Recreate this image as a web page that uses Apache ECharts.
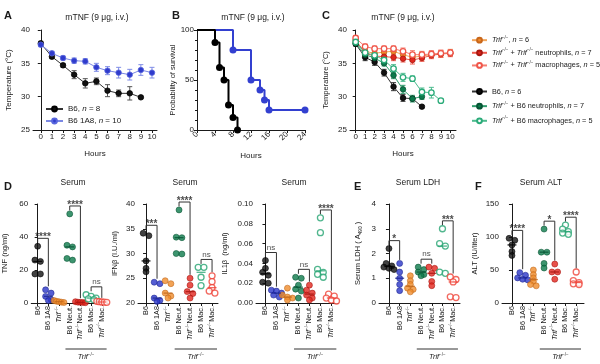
<!DOCTYPE html>
<html><head><meta charset="utf-8">
<script src="https://cdn.jsdelivr.net/npm/echarts@6.0.0/dist/echarts.min.js"></script>
<style>html,body{margin:0;padding:0;background:#fff}#c{width:600px;height:364px}</style>
</head><body><div id="c"></div>
<script>
// ================= DATA =================
const hours = [0,1,2,3,4,5,6,7,8,9,10];
// Panel A
const A_B6      = [38.0,36.0,34.7,33.3,32.0,32.3,30.9,30.5,30.5,29.9];
const A_B6_sem  = [0.3,0.3,0.3,0.6,0.7,0.5,0.9,0.5,1.0,0.2];
const A_1A8     = [37.8,36.5,35.8,35.4,35.3,34.4,33.9,33.6,33.3,34.0,33.6];
const A_1A8_sem = [0.3,0.3,0.3,0.4,0.4,0.6,0.6,0.8,0.8,0.8,0.8];
// Panel B (Kaplan-Meier)
const survTicks = [0,4,8,12,16,20,24];
const B_B6_t  = [0,4,5,6,7,8,9];
const B_B6_p  = [100,87.5,62.5,50,25,12.5,0];
const B_1A8_t = [0,8,12,14,15,16,24];
const B_1A8_p = [100,80,50,40,30,20,20];
// Panel C
const C_trif         = [38.2,36.8,36.5,36.7,36.8,36.3,35.9,36.1,36.3,36.4,36.6];
const C_trif_sem     = [0.3,0.4,0.4,0.5,0.5,0.6,0.6,0.6,0.5,0.5,0.5];
const C_trifNeut     = [38.5,36.5,36.1,36.0,35.9,35.7,35.5,35.8,36.2,36.4,36.5];
const C_trifNeut_sem = [0.3,0.4,0.4,0.4,0.5,0.5,0.6,0.5,0.5,0.5,0.5];
const C_trifMac      = [38.8,37.5,37.2,37.2,37.2,36.8,36.3,36.3,36.4,36.5,36.6];
const C_trifMac_sem  = [0.3,0.4,0.4,0.4,0.4,0.5,0.6,0.5,0.5,0.5,0.4];
const C_b6           = [37.9,35.9,35.2,33.6,31.5,29.8,29.7,28.5];
const C_b6_sem       = [0.3,0.5,0.5,0.5,0.6,0.5,0.3,0.2];
const C_b6Neut       = [38.0,36.3,35.8,35.0,33.2,31.1,29.7,30.0];
const C_b6Neut_sem   = [0.3,0.4,0.4,0.4,0.5,0.6,0.5,0.4];
const C_b6Mac        = [38.2,36.6,36.2,35.5,34.2,32.9,32.7,30.7,30.6,29.4];
const C_b6Mac_sem    = [0.3,0.4,0.4,0.5,0.6,0.6,0.4,0.6,0.8,0.3];
// Panels D-F
const groups = ['B6','B6 1A8','Trif','B6 Neut.','Trif Neut.','B6 Mac.','Trif Mac.'];
const tnf  = [[34.4,26,25.2,17.6,17.6],[8,6,4,2,1.5],[1.5,1,0.8,0.5,0.3],[54,35,34,27,26],[0.8,0.5,0.4,0.3,0.2],[5,4,3,2.5,2],[1,0.8,0.6,0.5,0.4]];
const ifnb = [[34.1,33.6,28.5,27,26.3],[24.2,23.9,21,20.5,20.3],[24.5,23.9,22.0,21.4,21.0],[38.8,33.3,33.2,30,29.9],[25,23.6,22.3,21.9,21.0],[27.2,27.2,25.2,23.5],[25.5,24.3,23.1,22.4,22.0]];
const il1b = [[0.043,0.035,0.031,0.028,0.021,0.020],[0.013,0.012,0.010,0.008,0.006],[0.015,0.008,0.006,0.005,0.003],[0.026,0.025,0.018,0.014,0.012,0.005],[0.018,0.013,0.010,0.008,0.005,0.003],[0.086,0.071,0.034,0.031,0.029,0.026],[0.009,0.007,0.005,0.003,0.002]];
const ldh  = [[2.2,1.6,1.5,1.45,1.4,1.35],[1.6,1.25,1.0,0.75,0.5],[1.1,0.9,0.75,0.6,0.55,0.45],[1.45,1.35,1.25,1.15,1.1],[1.45,1.4,1.2,0.87,0.7],[3.0,2.4,2.3,1.25,1.2],[1.05,0.95,0.85,0.25,0.22]];
const alt  = [[98,95,88,78,72],[46,42,38,36,35],[50,43,38,33,28,26],[112,77,77,60,53],[59,47,47,36],[118,112,108,106,104],[47,34,31,29,28]];
const tnfSig  = [[0,1,'****'],[3,4,'****'],[5,6,'ns']];
const ifnbSig = [[0,1,'***'],[3,4,'****'],[5,6,'ns']];
const il1bSig = [[0,1,'ns'],[3,4,'ns'],[5,6,'****']];
const ldhSig  = [[0,1,'*'],[3,4,'ns'],[5,6,'***']];
const altSig  = [[0,1,'****'],[3,4,'*'],[5,6,'****']];

// ================= STYLE / HELPERS =================
const FONT = '"Liberation Sans", Arial, Helvetica, sans-serif';
const INK = '#1a1a1a';
function rich(fs){
  const s = +(fs*0.62).toFixed(1);
  return {
    n:{fontSize:fs,fontFamily:FONT,color:INK,lineHeight:fs+3},
    it:{fontSize:fs,fontFamily:FONT,color:INK,fontStyle:'italic',lineHeight:fs+3},
    sup:{fontSize:s,fontFamily:FONT,color:INK,verticalAlign:'top',lineHeight:s+1},
    sub:{fontSize:s,fontFamily:FONT,color:INK,verticalAlign:'bottom',lineHeight:s+1}
  };
}
const TRIF = '{it|Trif}{sup|−/−}';
function richName(s){
  if (s.startsWith('Trif')) { const r = s.slice(4).trim(); return TRIF + (r ? '{n|' + r + '}' : ''); }
  return '{n|' + s + '}';
}
const axLine = {show:true,lineStyle:{color:INK,width:1}};
const axTick = {show:true,length:3,lineStyle:{color:INK,width:1}};
function lab(fs){ return {color:INK,fontSize:fs,fontFamily:FONT,margin:3}; }
const nameStyle = (fs)=>({color:INK,fontSize:fs,fontFamily:FONT,rich:rich(fs)});

const grids = [
  {left:33,top:30,width:124,height:100},
  {left:197,top:30,width:108,height:100},
  {left:350,top:30,width:106,height:100},
  {left:29,top:204,width:79,height:99},
  {left:138,top:204,width:80,height:99},
  {left:256,top:204,width:82,height:99},
  {left:379,top:204,width:81,height:99},
  {left:502,top:204,width:82,height:99}
];

const xAxes = [], yAxes = [], series = [];

// ---- A ----
xAxes.push({gridIndex:0,type:'value',min:-0.7,max:10.45,name:'Hours',nameLocation:'middle',nameGap:20,nameTextStyle:nameStyle(8),
  axisLine:axLine,axisTick:Object.assign({},axTick,{customValues:hours}),axisLabel:Object.assign(lab(8),{customValues:hours}),splitLine:{show:false}});
yAxes.push({gridIndex:0,type:'value',min:25,max:40,interval:5,name:'Temperature (°C)',nameLocation:'middle',nameGap:20,nameTextStyle:nameStyle(8),
  axisLine:axLine,axisTick:axTick,axisLabel:lab(8),splitLine:{show:false}});
// ---- B ----
xAxes.push({gridIndex:1,type:'value',min:0,max:24,interval:4,name:'Hours',nameLocation:'middle',nameGap:22,nameTextStyle:nameStyle(8),
  axisLine:axLine,axisTick:axTick,axisLabel:Object.assign(lab(8),{rotate:45}),splitLine:{show:false}});
yAxes.push({gridIndex:1,type:'value',min:0,max:100,interval:50,name:'Probability of survival',nameLocation:'middle',nameGap:18,nameTextStyle:nameStyle(7.5),
  axisLine:axLine,axisTick:axTick,minorTick:{show:true,splitNumber:5,length:2,lineStyle:{color:INK}},axisLabel:lab(8),splitLine:{show:false}});
// ---- C ----
xAxes.push({gridIndex:2,type:'value',min:-0.6,max:10.6,name:'Hours',nameLocation:'middle',nameGap:20,nameTextStyle:nameStyle(8),
  axisLine:axLine,axisTick:Object.assign({},axTick,{customValues:hours}),axisLabel:Object.assign(lab(8),{customValues:hours}),splitLine:{show:false}});
yAxes.push({gridIndex:2,type:'value',min:25,max:40,interval:5,name:'Temperature (°C)',nameLocation:'middle',nameGap:20,nameTextStyle:nameStyle(7.5),
  axisLine:axLine,axisTick:axTick,axisLabel:lab(8),splitLine:{show:false}});

function errSeries(gi, ys, es, color){
  return {type:'custom',xAxisIndex:gi,yAxisIndex:gi,silent:true,z:2,clip:false,encode:{x:0,y:1},
    data: ys.map((y,i)=>[hours[i],y,es[i]]),
    renderItem:(p,api)=>{
      const x=api.value(0), y=api.value(1), e=api.value(2);
      const t=api.coord([x,y+e]), b=api.coord([x,y-e]); const w=2.5;
      const st={stroke:color,lineWidth:1};
      return {type:'group',children:[
        {type:'line',shape:{x1:t[0],y1:t[1],x2:b[0],y2:b[1]},style:st},
        {type:'line',shape:{x1:t[0]-w,y1:t[1],x2:t[0]+w,y2:t[1]},style:st},
        {type:'line',shape:{x1:b[0]-w,y1:b[1],x2:b[0]+w,y2:b[1]},style:st}]};
    }};
}
function tempSeries(gi, name, ys, lineColor, fill, border, open){
  return {type:'line',name:name,xAxisIndex:gi,yAxisIndex:gi,clip:false,z:3,
    data: ys.map((y,i)=>[hours[i],y]), symbol:'circle', symbolSize:5.5, showSymbol:true,
    lineStyle:{color:lineColor,width:1}, itemStyle:{color:open?'#fff':fill,borderColor:border,borderWidth:open?1.3:0.8}};
}
// A series
series.push(errSeries(0,A_B6,A_B6_sem,'#555'));
series.push(errSeries(0,A_1A8,A_1A8_sem,'#7f8ce6'));
series.push(tempSeries(0,'aB6',A_B6,'#333','#111','#000',false));
series.push(tempSeries(0,'a1A8',A_1A8,'#7b88e4','#2f3bcc','#5866dd',false));
// B series
function survData(ts, ps){ return ts.map((t,i)=> i===0 ? {value:[t,ps[i]],symbol:'none'} : [t,ps[i]]); }
series.push({type:'line',name:'bB6',xAxisIndex:1,yAxisIndex:1,step:'end',clip:false,data:survData(B_B6_t,B_B6_p),
  symbol:'circle',symbolSize:7,lineStyle:{color:'#000',width:2},itemStyle:{color:'#000'},z:4});
series.push({type:'line',name:'b1A8',xAxisIndex:1,yAxisIndex:1,step:'end',clip:false,data:survData(B_1A8_t,B_1A8_p),
  symbol:'circle',symbolSize:7,lineStyle:{color:'#3340d0',width:2},itemStyle:{color:'#3340d0'},z:3});
// C series
const cDefs = [
  ['cTrif',C_trif,C_trif_sem,'#f1a55c','#ef8a2a','#c8661a',false],
  ['cTrifN',C_trifNeut,C_trifNeut_sem,'#ee5b4e','#e0271e','#a8160f',false],
  ['cTrifM',C_trifMac,C_trifMac_sem,'#f47d70','#fff','#f0564a',true],
  ['cB6',C_b6,C_b6_sem,'#333','#111','#000',false],
  ['cB6N',C_b6Neut,C_b6Neut_sem,'#2f9b6c','#0b7a4b','#065333',false],
  ['cB6M',C_b6Mac,C_b6Mac_sem,'#4dbb8e','#fff','#2aab79',true]
];
cDefs.forEach(d=>{ series.push(errSeries(2,d[1],d[2],d[3])); });
cDefs.forEach(d=>{ series.push(tempSeries(2,d[0],d[1],d[3],d[4],d[5],d[6])); });

// ---- D-F ----
const gStyle = [
  {fill:'#111',border:'#000'},
  {fill:'#2b36c8',border:'#1c2590'},
  {fill:'#ef8c2c',border:'#c0661a'},
  {fill:'#0c7a4b',border:'#075233'},
  {fill:'#e2261e',border:'#a5140f'},
  {fill:'#fff',border:'#26a472',open:true},
  {fill:'#fff',border:'#ef4438',open:true}
];
const dPanels = [
  {vals:tnf, min:0,max:60,step:20, name:'{n|TNF (ng/ml)}', gap:21, sig:tnfSig, xmin:-0.6,xmax:6.58,dec:0},
  {vals:ifnb,min:20,max:40,step:5, name:'{n|IFNβ (I.U./ml)}', gap:18, sig:ifnbSig, xmin:-0.73,xmax:6.54,dec:0},
  {vals:il1b,min:0,max:0.1,step:0.02, name:'{n|IL1β  (ng/ml)}', gap:26, sig:il1bSig, xmin:-0.86,xmax:6.6,dec:2},
  {vals:ldh, min:0,max:4,step:1, name:'{n|Serum LDH ( A}{sub|490}{n| )}', gap:16, sig:ldhSig, xmin:-0.93,xmax:6.64,dec:0},
  {vals:alt, min:0,max:150,step:50, name:'{n|ALT (IU/liter)}', gap:22, sig:altSig, xmin:-0.93,xmax:6.73,dec:0}
];
const catIdx = groups.map((g,i)=>i);
function median(a){ const s=[...a].sort((x,y)=>x-y); const m=Math.floor(s.length/2); return s.length%2?s[m]:(s[m-1]+s[m])/2; }
function swarm(vals, ci, pxX, pxY, d){
  const s=[...vals].sort((a,b)=>b-a); const rows=[];
  s.forEach(v=>{ const r=rows[rows.length-1]; if(r && (r[0]-v)*pxY < d*0.55) r.push(v); else rows.push([v]); });
  const out=[];
  rows.forEach(r=>{ const k=r.length; const sp=k>1?Math.min(d*0.95,1.7*d/(k-1)):0;
    r.forEach((v,i)=>out.push([ci+(i-(k-1)/2)*sp/pxX, v])); });
  return out;
}
const DOT = 6;
dPanels.forEach((P,pi)=>{
  const gi = 3+pi, g = grids[gi];
  const pxX = g.width/(P.xmax-P.xmin), pxY = g.height/(P.max-P.min), range=P.max-P.min;
  xAxes.push({gridIndex:gi,type:'value',min:P.xmin,max:P.xmax,axisLine:axLine,
    axisTick:Object.assign({},axTick,{customValues:catIdx}),
    axisLabel:{customValues:catIdx,rotate:90,margin:3,formatter:v=>richName(groups[Math.round(v)]),rich:rich(7.3),color:INK,fontSize:7.3,fontFamily:FONT},
    splitLine:{show:false}});
  yAxes.push({gridIndex:gi,type:'value',min:P.min,max:P.max,interval:P.step,name:P.name,nameLocation:'middle',nameGap:P.gap,
    nameTextStyle:nameStyle(7.5),axisLine:axLine,axisTick:axTick,
    axisLabel:Object.assign(lab(8),{formatter:v=>v.toFixed(P.dec)}),splitLine:{show:false}});
  P.vals.forEach((vals,ci)=>{
    const st=gStyle[ci];
    series.push({type:'scatter',xAxisIndex:gi,yAxisIndex:gi,clip:false,z:3,symbolSize:DOT,
      data:swarm(vals,ci,pxX,pxY,DOT),
      itemStyle:{color:st.fill,borderColor:st.border,borderWidth:st.open?1.3:0.7}});
    series.push({type:'scatter',xAxisIndex:gi,yAxisIndex:gi,clip:false,z:4,symbol:'rect',symbolSize:[9,1.3],silent:true,
      data:[[ci,median(vals)]],itemStyle:{color:st.border}});
  });
  P.sig.forEach(([i,j,txt])=>{
    const mi=Math.max(...P.vals[i]), mj=Math.max(...P.vals[j]);
    const top=Math.max(mi,mj)+0.08*range, yl=mi+0.035*range, yr=mj+0.035*range;
    series.push({type:'line',xAxisIndex:gi,yAxisIndex:gi,clip:false,silent:true,symbol:'none',z:2,
      lineStyle:{color:'#333',width:1},data:[[i,yl],[i,top],[j,top],[j,yr]]});
    const star = txt.indexOf('*')>=0;
    series.push({type:'scatter',xAxisIndex:gi,yAxisIndex:gi,clip:false,silent:true,symbolSize:0,z:5,
      data:[[(i+j)/2,top]],
      label:{show:true,position:'top',distance:star?-4:1,formatter:()=>txt,color:INK,fontFamily:FONT,
        fontSize:star?10:8,fontWeight:star?'bold':'normal'}});
  });
});

// ---- legends ----
const legendText = {
  aB6:'{n|B6, }{it|n}{n| = 8}',
  a1A8:'{n|B6 1A8, }{it|n}{n| = 10}',
  cTrif:TRIF+'{n|, }{it|n}{n| = 6}',
  cTrifN:TRIF+'{n| + }'+TRIF+'{n| neutrophils, }{it|n}{n| = 7}',
  cTrifM:TRIF+'{n| + }'+TRIF+'{n| macrophages, }{it|n}{n| = 5}',
  cB6:'{n|B6, }{it|n}{n| = 6}',
  cB6N:TRIF+'{n| + B6 neutrophils, }{it|n}{n| = 7}',
  cB6M:TRIF+'{n| + B6 macrophages, }{it|n}{n| = 5}'
};
const legFmt = n=>legendText[n]||n;
const legends = [
  {data:['aB6','a1A8'],left:40,top:100,orient:'vertical',itemGap:4,itemWidth:17,itemHeight:6,formatter:legFmt,selectedMode:false,
    textStyle:{fontSize:8,fontFamily:FONT,color:INK,rich:rich(8)}},
  {data:['cTrif','cTrifN','cTrifM'],left:466,top:30,orient:'vertical',itemGap:4,itemWidth:15,itemHeight:6,formatter:legFmt,selectedMode:false,
    textStyle:{fontSize:7.3,fontFamily:FONT,color:INK,rich:rich(7.3)}},
  {data:['cB6','cB6N','cB6M'],left:466,top:83,orient:'vertical',itemGap:6,itemWidth:15,itemHeight:6,formatter:legFmt,selectedMode:false,
    textStyle:{fontSize:7.3,fontFamily:FONT,color:INK,rich:rich(7.3)}}
];

// ---- text annotations (titles, panel letters) ----
const titleTxt = (x,y,t,fs,bold)=>({type:'text',x:x,y:y,silent:true,
  style:{text:t,fill:INK,font:(bold?'bold ':'')+fs+'px '+FONT,align:bold?'left':'center',verticalAlign:'top'}});
const graphics = [
  titleTxt(4,10,'A',11,true), titleTxt(172,10,'B',11,true), titleTxt(322,10,'C',11,true),
  titleTxt(4,181,'D',11,true), titleTxt(354,181,'E',11,true), titleTxt(475,181,'F',11,true),
  titleTxt(97,13,'mTNF (9 μg, i.v.)',8.5), titleTxt(253,13,'mTNF (9 μg, i.v.)',8.5), titleTxt(403,13,'mTNF (9 μg, i.v.)',8.5),
  titleTxt(73,178,'Serum',8.5), titleTxt(185,178,'Serum',8.5), titleTxt(294,178,'Serum',8.5),
  titleTxt(418,178,'Serum LDH',8.5), titleTxt(541,178,'Serum ALT',8.5)
];

const chart = echarts.init(document.getElementById('c'));
chart.setOption({
  animation:false,
  backgroundColor:'#fff',
  textStyle:{fontFamily:FONT},
  grid:grids.map(g=>Object.assign({containLabel:false},g)),
  xAxis:xAxes, yAxis:yAxes, series:series, legend:legends, graphic:graphics
});
// group underline "Trif−/−" below panels D-F
const extra = [];
[3,4,5,6,7].forEach(gi=>{
  const p1 = chart.convertToPixel({gridIndex:gi},[2.6, yAxes[gi].min]);
  const p2 = chart.convertToPixel({gridIndex:gi},[6.45, yAxes[gi].min]);
  extra.push({type:'line',silent:true,shape:{x1:p1[0],y1:349,x2:p2[0],y2:349},style:{stroke:'#333',lineWidth:1}});
  extra.push({type:'text',silent:true,x:(p1[0]+p2[0])/2,y:357,style:{text:TRIF,rich:rich(7.3),align:'center',verticalAlign:'middle',fill:INK}});
});
chart.setOption({graphic:graphics.concat(extra)});
</script>
</body></html>
